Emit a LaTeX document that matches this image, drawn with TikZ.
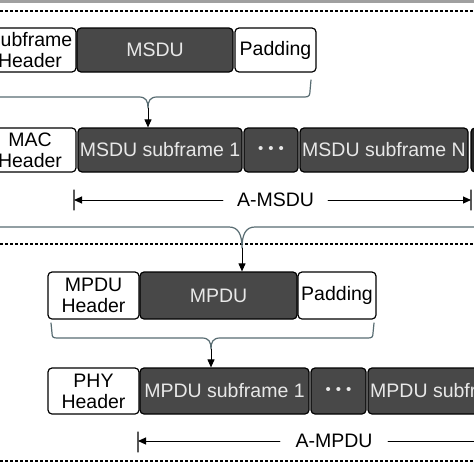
\documentclass[tikz,border=0pt]{standalone}
\usepackage{fontspec}
\setmainfont{Liberation Sans}
\usetikzlibrary{arrows.meta}
\definecolor{boxdark}{RGB}{72,72,72}
\definecolor{boxtext}{RGB}{232,232,232}
\definecolor{bracecol}{RGB}{88,108,114}
\definecolor{framegray}{RGB}{160,160,160}
\begin{document}
\begin{tikzpicture}[line cap=round,line join=round,>={Triangle[length=8pt,width=7pt]},x=1pt,y=-1pt,
  every node/.style={font=\fontsize{19.5}{21}\selectfont},
  lightbox/.style={draw=black,line width=1.2pt,rounded corners=4pt,fill=white,text=black,align=center,inner sep=0pt},
  darkbox/.style={lightbox,fill=boxdark,text=boxtext},
  bracepath/.style={draw=bracecol,line width=1.2pt},
  sepline/.style={line width=1.2pt,line cap=butt,dash pattern=on 3pt off 2pt}]
\useasboundingbox (0,0) rectangle (474,474);
\clip (0,0) rectangle (474,474);
\fill[framegray] (0,0) rectangle (474,2.5);
% separators
\draw[sepline] (0,11) -- (474,11);
\draw[sepline] (0,244) -- (474,244);
\draw[sepline] (0,461) -- (474,461);
% MSDU subframe
\node[lightbox,minimum width=92,minimum height=44] (sfhdr) at (30,50) {Subframe\\Header};
\node[darkbox,minimum width=156,minimum height=44] (msdu) at (155,50) {MSDU};
\node[lightbox,minimum width=81,minimum height=44] (pad1) at (275.5,50) {Padding};
% A-MSDU
\node[lightbox,minimum width=92,minimum height=44] (machdr) at (30,150) {MAC\\Header};
\node[darkbox,minimum width=164,minimum height=44] (msdusub1) at (160,150) {MSDU subframe 1};
\node[darkbox,minimum width=54,minimum height=44] (dots1) at (271,150) {{\fontsize{15}{15}\selectfont\textbullet\hspace{5pt}\textbullet\hspace{5pt}\textbullet}};
\node[darkbox,minimum width=168,minimum height=44] (msdusubn) at (384,150) {MSDU subframe N};
\node[darkbox,fill=black!85,minimum width=60,minimum height=44] (msdutail) at (501,150) {};
\coordinate (tip1) at (148,108);
\draw[bracepath] (-20,97) -- (139,97) .. controls (146,97) and (148,101) .. (tip1) .. controls (148,101) and (150,97) .. (157,97) -- (305,97) .. controls (309,97) and (310,95) .. (310,91) -- (311,80);
\draw[->,line width=1pt] (tip1) -- (tip1 |- msdusub1.north);
\node[inner sep=0pt,minimum width=105,minimum height=20] (amsdu) at (275.5,200) {A-MSDU};
\coordinate (amsduL) at (74,200);
\coordinate (amsduR) at (471,200);
\draw[gray!70!black,line width=1.2pt] (74,190) -- (74,210);
\draw[gray!70!black,line width=1.2pt] (471,190) -- (471,210);
\draw[->,line width=1pt] (amsdu.west) -- (amsduL);
\draw[->,line width=1pt] (amsdu.east) -- (amsduR);
\coordinate (tip2) at (242,248);
\draw[bracepath] (-20,227) -- (229,227) .. controls (238,227) and (242,234) .. (tip2) .. controls (242,234) and (246,227) .. (255,227) -- (500,227);
% MPDU subframe
\node[lightbox,minimum width=91,minimum height=47] (mpduhdr) at (93.5,295.5) {MPDU\\Header};
\node[darkbox,minimum width=157,minimum height=47] (mpdu) at (218.5,295.5) {MPDU};
\node[lightbox,minimum width=78,minimum height=47] (pad2) at (337,295.5) {Padding};
\draw[->,line width=1pt] (tip2) -- (tip2 |- mpdu.north);
\coordinate (tip3) at (211,349);
\draw[bracepath] (51,323) -- (52,333) .. controls (52,337) and (53,338) .. (57,338) -- (202,338) .. controls (209,338) and (211,342) .. (tip3) .. controls (211,342) and (213,338) .. (220,338) -- (368,338) .. controls (372,338) and (373,337) .. (373,333) -- (374,323);
% A-MPDU
\node[lightbox,minimum width=91,minimum height=46] (phyhdr) at (93.5,391) {PHY\\Header};
\node[darkbox,minimum width=169,minimum height=46] (mpdusub1) at (224.5,391) {MPDU subframe 1};
\node[darkbox,minimum width=55,minimum height=46] (dots2) at (338.5,391) {{\fontsize{15}{15}\selectfont\textbullet\hspace{5pt}\textbullet\hspace{5pt}\textbullet}};
\node[darkbox,minimum width=168,minimum height=46] (mpdusubn) at (452,391) {MPDU subframe N};
\draw[->,line width=1pt] (tip3) -- (tip3 |- mpdusub1.north);
\node[inner sep=0pt,minimum width=108,minimum height=20] (ampdu) at (334,441) {A-MPDU};
\coordinate (ampduL) at (138,441);
\coordinate (ampduR) at (560,441);
\draw[gray!70!black,line width=1.2pt] (138,432) -- (138,452);
\draw[->,line width=1pt] (ampdu.west) -- (ampduL);
\draw[->,line width=1pt] (ampdu.east) -- (ampduR);
\end{tikzpicture}
\end{document}
